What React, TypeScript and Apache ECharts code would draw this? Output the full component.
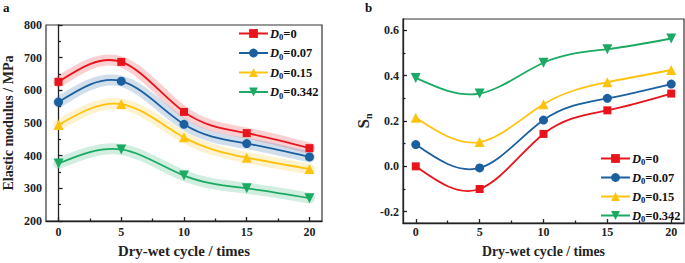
import React, { useEffect, useRef } from "react";
import * as echarts from "echarts";

const cycles = [0, 5, 10, 15, 20];
const seriesLabels = ["0", "0.07", "0.15", "0.342"];
const modulusD0 = [626, 687, 534, 469, 423];
const modulusD007 = [564, 628, 496, 437, 396];
const modulusD015 = [494, 558, 456, 394, 359];
const modulusD0342 = [376, 419, 339, 300, 270];
const snD0 = [0.0, -0.1, 0.143, 0.247, 0.321];
const snD007 = [0.096, -0.007, 0.204, 0.3, 0.363];
const snD015 = [0.214, 0.107, 0.274, 0.371, 0.425];
const snD0342 = [0.39, 0.321, 0.457, 0.517, 0.564];
const xMajorTicks = [0, 5, 10, 15, 20];
const xMinorTicks = [2.5, 7.5, 12.5, 17.5];
const snMajorTicks = [-0.2, 0, 0.2, 0.4, 0.6];
const snMinorTicks = [-0.1, 0.1, 0.3, 0.5];

const colors = ["#E8141B", "#1B5F9F", "#FFC20E", "#1BAA63"];
const bandColors = [
  "rgba(232,20,27,0.2)",
  "rgba(27,95,159,0.2)",
  "rgba(255,194,14,0.2)",
  "rgba(27,170,99,0.2)",
];
const symbols = ["rect", "circle", "triangle", "path://M0,0 L10,0 L5,9 Z"];
const symbolSizes = [8, 9, 10, 10];

const FONT = '"Liberation Serif", "Times New Roman", serif';

const pair = (ys: number[]) => ys.map((y, i) => [cycles[i], y]);

// Natural cubic spline through the data points, returned as Bezier segments in data space
function splineSegments(xs: number[], ys: number[]) {
  const n = xs.length;
  const h: number[] = [];
  for (let i = 0; i < n - 1; i++) h.push(xs[i + 1] - xs[i]);
  const M = new Array(n).fill(0);
  const a: number[] = [], b: number[] = [], c: number[] = [], d: number[] = [];
  for (let i = 1; i < n - 1; i++) {
    a.push(h[i - 1]);
    b.push(2 * (h[i - 1] + h[i]));
    c.push(h[i]);
    d.push(6 * ((ys[i + 1] - ys[i]) / h[i] - (ys[i] - ys[i - 1]) / h[i - 1]));
  }
  const m = b.length;
  for (let i = 1; i < m; i++) {
    const w = a[i] / b[i - 1];
    b[i] -= w * c[i - 1];
    d[i] -= w * d[i - 1];
  }
  const sol = new Array(m).fill(0);
  for (let i = m - 1; i >= 0; i--) {
    sol[i] = (d[i] - (i < m - 1 ? c[i] * sol[i + 1] : 0)) / b[i];
  }
  for (let i = 0; i < m; i++) M[i + 1] = sol[i];
  const segs: number[][][] = [];
  for (let i = 0; i < n - 1; i++) {
    const hi = h[i];
    const slope = (ys[i + 1] - ys[i]) / hi;
    const d0 = slope - (hi * (2 * M[i] + M[i + 1])) / 6;
    const d1 = slope + (hi * (M[i] + 2 * M[i + 1])) / 6;
    segs.push([
      [xs[i], ys[i]],
      [xs[i] + hi / 3, ys[i] + (d0 * hi) / 3],
      [xs[i + 1] - hi / 3, ys[i + 1] - (d1 * hi) / 3],
      [xs[i + 1], ys[i + 1]],
    ]);
  }
  return segs;
}

function curveSeries(vals: number[], axis: number, stroke: string, width: number, z: number, name: string) {
  const segs = splineSegments(cycles, vals);
  return {
    name,
    type: "custom",
    coordinateSystem: "cartesian2d",
    xAxisIndex: axis,
    yAxisIndex: axis,
    data: pair(vals),
    encode: { x: 0, y: 1 },
    silent: true,
    z,
    renderItem: (params: any, api: any) => {
      if (params.dataIndex !== 0) return null;
      let path = "";
      segs.forEach((s, k) => {
        const p = s.map((pt) => api.coord(pt));
        if (k === 0) path += `M${p[0][0]} ${p[0][1]} `;
        path += `C${p[1][0]} ${p[1][1]} ${p[2][0]} ${p[2][1]} ${p[3][0]} ${p[3][1]} `;
      });
      return {
        type: "path",
        shape: { pathData: path },
        style: { fill: "none", stroke, lineWidth: width, lineCap: "round", lineJoin: "round" },
      };
    },
  };
}

export default function App() {
  const ref = useRef<HTMLDivElement>(null);
  useEffect(() => {
    if (!ref.current) return;
    const chart = echarts.init(ref.current, null, { renderer: "svg" });
    const modulus = [modulusD0, modulusD007, modulusD015, modulusD0342];
    const sn = [snD0, snD007, snD015, snD0342];

    const rich = {
      d: { fontFamily: FONT, fontWeight: "bold", fontStyle: "italic", fontSize: 12.5, lineHeight: 16, color: "#111" },
      s: { fontFamily: FONT, fontWeight: "bold", fontSize: 8.5, lineHeight: 9, verticalAlign: "bottom", color: "#111" },
      n: { fontFamily: FONT, fontWeight: "bold", fontSize: 12.5, lineHeight: 16, color: "#111" },
    };
    const legendFmt = (name: string) => {
      const idx = Number(name.slice(1));
      return `{d|D}{s|0}{n|=${seriesLabels[idx]}}`;
    };

    const axisLineStyle = { color: "#222", width: 1.3 };
    const baseX = (gridIndex: number, nameGap: number, labelMargin: number, nameSize: number) => ({
      type: "value",
      gridIndex,
      min: -1,
      max: 21,
      position: "bottom",
      axisLine: { show: true, onZero: false, lineStyle: axisLineStyle },
      axisTick: { show: true, inside: true, length: 4, lineStyle: axisLineStyle, customValues: xMajorTicks },
      axisLabel: {
        customValues: xMajorTicks,
        fontFamily: FONT,
        fontWeight: "bold",
        fontSize: 12,
        color: "#222",
        margin: labelMargin,
      },
      splitLine: { show: false },
      name: "Dry-wet cycle / times",
      nameLocation: "middle",
      nameGap,
      nameTextStyle: { fontFamily: FONT, fontWeight: "bold", fontSize: nameSize, color: "#222" },
    });
    const minorX = (gridIndex: number) => ({
      type: "value",
      gridIndex,
      min: -1,
      max: 21,
      position: "bottom",
      axisLine: { show: false, onZero: false },
      axisTick: { show: true, inside: true, length: 2.5, lineStyle: axisLineStyle, customValues: xMinorTicks },
      axisLabel: { show: false },
      splitLine: { show: false },
    });

    const series: any[] = [];
    modulus.forEach((vals, i) => {
      series.push(curveSeries(vals, 0, bandColors[i], 11, 1, "band" + i));
    });
    modulus.forEach((vals, i) => {
      series.push(curveSeries(vals, 0, colors[i], 1.8, 2, "curveE" + i));
    });
    sn.forEach((vals, i) => {
      series.push(curveSeries(vals, 2, colors[i], 1.8, 2, "curveS" + i));
    });
    const markerSeries = (vals: number[], axis: number, i: number, prefix: string) => ({
      name: prefix + i,
      type: "line",
      xAxisIndex: axis,
      yAxisIndex: axis,
      data: pair(vals),
      symbol: symbols[i],
      symbolSize: symbolSizes[i],
      z: 3,
      itemStyle: { color: colors[i] },
      lineStyle: { width: 1.8, color: colors[i], opacity: 0 },
    });
    modulus.forEach((vals, i) => series.push(markerSeries(vals, 0, i, "E")));
    sn.forEach((vals, i) => series.push(markerSeries(vals, 2, i, "S")));

    const legendData = (prefix: string) =>
      [0, 1, 2, 3].map((i) => ({
        name: prefix + i,
        lineStyle: { color: colors[i], width: 2, opacity: 1 },
        itemStyle: { color: colors[i] },
      }));

    const legendBase = {
      orient: "vertical",
      itemWidth: 29,
      itemHeight: 11,
      padding: 0,
      formatter: legendFmt,
      textStyle: { rich, padding: [0, 0, 0, -3] },
      selectedMode: false,
    };

    chart.setOption({
      animation: false,
      backgroundColor: "#fff",
      grid: [
        { left: 43, top: 25, width: 279, height: 201, show: true, borderColor: "#333", borderWidth: 1.2, backgroundColor: "transparent" },
        { left: 403, top: 19, width: 281, height: 209, show: true, borderColor: "#333", borderWidth: 1.2, backgroundColor: "transparent" },
      ],
      xAxis: [baseX(0, 22, 5, 14.8), minorX(0), baseX(1, 21, 3, 13.8), minorX(1)],
      yAxis: [
        {
          type: "value",
          gridIndex: 0,
          min: 200,
          max: 800,
          interval: 100,
          axisLine: { show: true, lineStyle: axisLineStyle },
          axisTick: { show: true, inside: true, length: 4, lineStyle: axisLineStyle },
          minorTick: { show: true, splitNumber: 2, length: 2.5, lineStyle: axisLineStyle },
          axisLabel: { fontFamily: FONT, fontWeight: "bold", fontSize: 12, color: "#222", margin: 4 },
          splitLine: { show: false },
          name: "Elastic modulus / MPa",
          nameLocation: "middle",
          nameGap: 31,
          nameTextStyle: { fontFamily: FONT, fontWeight: "bold", fontSize: 14, color: "#222" },
        },
        {
          type: "value",
          gridIndex: 0,
          min: 200,
          max: 800,
          show: false,
        },
        {
          type: "value",
          gridIndex: 1,
          min: -0.25,
          max: 0.65,
          position: "left",
          axisLine: { show: true, onZero: false, lineStyle: axisLineStyle },
          axisTick: { show: true, inside: true, length: 4, lineStyle: axisLineStyle, customValues: snMajorTicks },
          axisLabel: {
            customValues: snMajorTicks,
            formatter: (v: number) => v.toFixed(1),
            fontFamily: FONT,
            fontWeight: "bold",
            fontSize: 12,
            color: "#222",
            margin: 4,
          },
          splitLine: { show: false },
          name: "{s|S}{n|n}",
          nameLocation: "middle",
          nameGap: 30,
          nameTextStyle: {
            rich: {
              s: { fontFamily: FONT, fontWeight: "bold", fontSize: 17, lineHeight: 20, color: "#222" },
              n: { fontFamily: FONT, fontWeight: "bold", fontSize: 10, lineHeight: 10, verticalAlign: "bottom", color: "#222" },
            },
          },
        },
        {
          type: "value",
          gridIndex: 1,
          min: -0.25,
          max: 0.65,
          position: "left",
          axisLine: { show: false, onZero: false },
          axisTick: { show: true, inside: true, length: 2.5, lineStyle: axisLineStyle, customValues: snMinorTicks },
          axisLabel: { show: false },
          splitLine: { show: false },
        },
      ],
      legend: [
        { ...legendBase, data: legendData("E"), left: 238, top: 27, itemGap: 5 },
        { ...legendBase, data: legendData("S"), left: 600, top: 152, itemGap: 4.5 },
      ],
      graphic: [
        { type: "text", left: 3, top: 1, style: { text: "a", font: `bold 13px ${FONT}`, fill: "#111" } },
        { type: "text", left: 365, top: 1, style: { text: "b", font: `bold 13px ${FONT}`, fill: "#111" } },
      ],
      series,
    });
    return () => chart.dispose();
  }, []);
  return <div ref={ref} style={{ position: "fixed", left: 0, top: 0, width: 685, height: 263 }} />;
}
